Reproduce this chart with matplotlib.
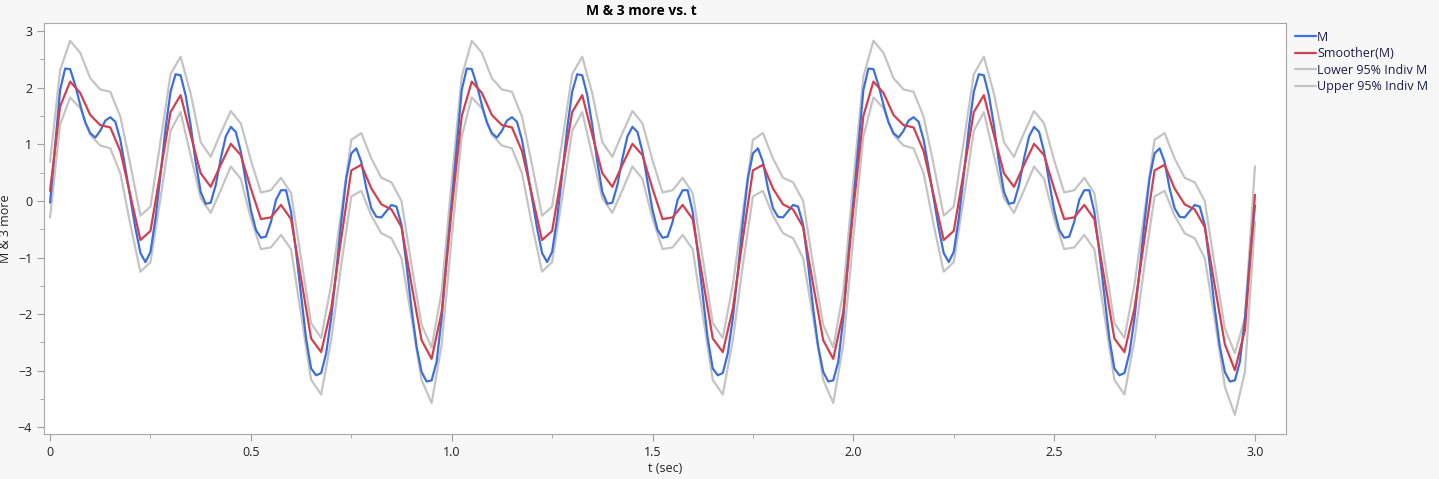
import numpy as np
import matplotlib
matplotlib.use("Agg")
import matplotlib.pyplot as plt
from matplotlib.ticker import MultipleLocator, FixedLocator

plt.rcParams['font.family'] = ['Open Sans', 'DejaVu Sans']

# M, read every 0.0125 s over one cycle (the signal repeats every second)
m_cycle = [-0.03, 0.96, 1.96, 2.34, 2.33, 2.05, 1.70, 1.39, 1.20, 1.12,
           1.24, 1.42, 1.48, 1.40, 1.08, 0.58, 0.05, -0.48, -0.92, -1.08,
           -0.90, -0.31, 0.46, 1.28, 1.93, 2.24, 2.22, 1.87, 1.34, 0.69,
           0.16, -0.05, -0.03, 0.28, 0.75, 1.14, 1.31, 1.22, 0.87, 0.34,
           -0.16, -0.51, -0.65, -0.63, -0.37, 0.02, 0.19, 0.19, -0.19, -0.90,
           -1.66, -2.43, -2.96, -3.08, -3.04, -2.69, -2.07, -1.25, -0.37, 0.40,
           0.84, 0.93, 0.69, 0.22, -0.13, -0.28, -0.29, -0.18, -0.07, -0.10,
           -0.42, -1.13, -1.90, -2.57, -3.02, -3.19, -3.17, -2.84, -2.07, -1.00]
m_values = m_cycle * 3 + [-0.08]
t_m = np.linspace(0, 3.0, len(m_values))

# smoother and 95% individual bands, every 0.025 s
smoother = [0.18, 1.67, 2.11, 1.91, 1.52, 1.34, 1.30, 0.88, 0.10, -0.69,
            -0.53, 0.52, 1.57, 1.87, 1.17, 0.49, 0.25, 0.64, 1.01, 0.81,
            0.22, -0.32, -0.29, -0.07, -0.32, -1.37, -2.43, -2.67, -1.90, -0.66,
            0.54, 0.64, 0.22, -0.06, -0.15, -0.46, -1.48, -2.46, -2.79, -1.96,
            -0.15, 1.50, 2.11, 1.91, 1.52, 1.34, 1.30, 0.88, 0.10, -0.69,
            -0.53, 0.52, 1.57, 1.87, 1.17, 0.49, 0.25, 0.64, 1.01, 0.81,
            0.22, -0.32, -0.29, -0.07, -0.32, -1.37, -2.43, -2.67, -1.90, -0.66,
            0.54, 0.64, 0.22, -0.06, -0.15, -0.46, -1.48, -2.46, -2.79, -1.96,
            -0.15, 1.50, 2.11, 1.91, 1.52, 1.34, 1.30, 0.88, 0.10, -0.69,
            -0.53, 0.52, 1.57, 1.87, 1.17, 0.49, 0.25, 0.64, 1.01, 0.81,
            0.22, -0.32, -0.29, -0.07, -0.32, -1.37, -2.43, -2.67, -1.90, -0.66,
            0.54, 0.64, 0.22, -0.06, -0.15, -0.46, -1.50, -2.53, -2.99, -2.28,
            0.11]
upper = [0.69, 2.31, 2.83, 2.62, 2.17, 1.97, 1.93, 1.49, 0.64, -0.26,
         -0.10, 1.05, 2.24, 2.55, 1.90, 1.04, 0.78, 1.20, 1.59, 1.37,
         0.72, 0.15, 0.19, 0.41, 0.14, -1.01, -2.16, -2.42, -1.48, -0.19,
         1.08, 1.20, 0.75, 0.41, 0.33, 0.00, -1.13, -2.19, -2.59, -1.60,
         0.35, 2.20, 2.83, 2.62, 2.17, 1.97, 1.93, 1.49, 0.64, -0.26,
         -0.10, 1.05, 2.24, 2.55, 1.90, 1.04, 0.78, 1.20, 1.59, 1.37,
         0.72, 0.15, 0.19, 0.41, 0.14, -1.01, -2.16, -2.42, -1.48, -0.19,
         1.08, 1.20, 0.75, 0.41, 0.33, 0.00, -1.13, -2.19, -2.59, -1.60,
         0.35, 2.20, 2.83, 2.62, 2.17, 1.97, 1.93, 1.49, 0.64, -0.26,
         -0.10, 1.05, 2.24, 2.55, 1.90, 1.04, 0.78, 1.20, 1.59, 1.37,
         0.72, 0.15, 0.19, 0.41, 0.14, -1.01, -2.16, -2.42, -1.48, -0.19,
         1.08, 1.20, 0.75, 0.41, 0.33, 0.00, -1.15, -2.25, -2.69, -2.07,
         0.61]
lower = [-0.29, 1.35, 1.83, 1.64, 1.17, 0.98, 0.93, 0.49, -0.42, -1.25,
         -1.08, 0.05, 1.24, 1.57, 0.81, 0.05, -0.21, 0.19, 0.61, 0.39,
         -0.31, -0.85, -0.82, -0.60, -0.85, -2.01, -3.16, -3.42, -2.46, -1.13,
         0.08, 0.18, -0.26, -0.57, -0.66, -1.01, -2.07, -3.16, -3.57, -2.54,
         -0.65, 1.14, 1.83, 1.64, 1.17, 0.98, 0.93, 0.49, -0.42, -1.25,
         -1.08, 0.05, 1.24, 1.57, 0.81, 0.05, -0.21, 0.19, 0.61, 0.39,
         -0.31, -0.85, -0.82, -0.60, -0.85, -2.01, -3.16, -3.42, -2.46, -1.13,
         0.08, 0.18, -0.26, -0.57, -0.66, -1.01, -2.07, -3.16, -3.57, -2.54,
         -0.65, 1.14, 1.83, 1.64, 1.17, 0.98, 0.93, 0.49, -0.42, -1.25,
         -1.08, 0.05, 1.24, 1.57, 0.81, 0.05, -0.21, 0.19, 0.61, 0.39,
         -0.31, -0.85, -0.82, -0.60, -0.85, -2.01, -3.16, -3.42, -2.46, -1.13,
         0.08, 0.18, -0.26, -0.57, -0.66, -1.01, -2.10, -3.28, -3.78, -3.02,
         -0.37]
t_s = np.linspace(0, 3.0, len(smoother))

fig = plt.figure(figsize=(14.39, 4.79), dpi=100, facecolor='#f7f7f7')
ax = fig.add_axes([0.0306, 0.094, 0.863, 0.858])
ax.set_facecolor('white')

style = dict(lw=1.6, solid_joinstyle='round', solid_capstyle='round')
ax.plot(t_m, m_values, color='#3d6fdc', label='M', zorder=3, **style)
ax.plot(t_s, smoother, color='#d2404e', label='Smoother(M)', zorder=4, **style)
ax.plot(t_s, lower, color='#c4c4c4', label='Lower 95% Indiv M', zorder=2, **style)
ax.plot(t_s, upper, color='#c4c4c4', label='Upper 95% Indiv M', zorder=2, **style)

ax.set_xlim(-0.015, 3.077)
ax.set_ylim(-4.117, 3.145)
ax.xaxis.set_major_locator(FixedLocator([0, 0.5, 1.0, 1.5, 2.0, 2.5, 3.0]))
ax.set_xticklabels(['0', '0.5', '1.0', '1.5', '2.0', '2.5', '3.0'])
ax.xaxis.set_minor_locator(MultipleLocator(0.25))
ax.yaxis.set_major_locator(MultipleLocator(1))
ax.yaxis.set_minor_locator(MultipleLocator(0.5))
ax.tick_params(which='both', direction='out', color='#a0a0a0', labelsize=9,
               labelcolor='#222222')
ax.tick_params(which='major', length=5)
ax.tick_params(which='minor', length=3)
for s in ax.spines.values():
    s.set_color('#a8a8a8')

ax.set_xlabel('t (sec)', fontsize=9, color='#222222', labelpad=2)
ax.set_ylabel('M & 3 more', fontsize=9, color='#222222')
ax.yaxis.set_label_coords(-0.0255, 0.5)
fig.text(0.446, 0.977, 'M & 3 more vs. t', ha='center', va='center',
         fontsize=10, fontweight='bold', color='black')

ax.legend(loc='upper left', bbox_to_anchor=(1.003, 0.993), frameon=False,
          fontsize=9, handlelength=1.7, handletextpad=0.1, labelspacing=0.28,
          borderaxespad=0, labelcolor='#1c1c4a')

fig.savefig('out.png', dpi=100, facecolor=fig.get_facecolor())
